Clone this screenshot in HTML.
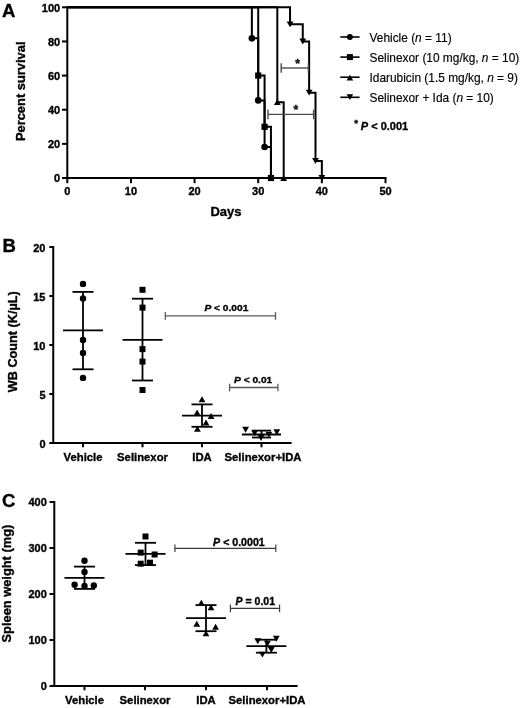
<!DOCTYPE html>
<html><head><meta charset="utf-8"><title>Figure</title>
<style>
html,body{margin:0;padding:0;background:#fff;}
body{width:520px;height:708px;overflow:hidden;}
svg{display:block;}
text{font-family:'Liberation Sans', Arial, Helvetica, sans-serif;fill:#000;}
text.b{stroke:#000;stroke-width:0.35px;}
text.r{stroke:#000;stroke-width:0.15px;}
</style></head>
<body>
<svg width="520" height="708" viewBox="0 0 520 708">
<rect width="520" height="708" fill="#fff"/>
<text class="b" x="2.00" y="16.90" font-size="18.5" font-weight="bold" text-anchor="start" >A</text>
<line x1="67.30" y1="6.30" x2="67.30" y2="179.00" stroke="#000" stroke-width="2"/>
<line x1="66.30" y1="178.00" x2="386.50" y2="178.00" stroke="#000" stroke-width="2"/>
<line x1="62.00" y1="178.00" x2="67.30" y2="178.00" stroke="#000" stroke-width="2"/>
<text class="b" x="60.20" y="182.40" font-size="11" font-weight="bold" text-anchor="end" >0</text>
<line x1="62.00" y1="143.86" x2="67.30" y2="143.86" stroke="#000" stroke-width="2"/>
<text class="b" x="60.20" y="148.26" font-size="11" font-weight="bold" text-anchor="end" >20</text>
<line x1="62.00" y1="109.72" x2="67.30" y2="109.72" stroke="#000" stroke-width="2"/>
<text class="b" x="60.20" y="114.12" font-size="11" font-weight="bold" text-anchor="end" >40</text>
<line x1="62.00" y1="75.58" x2="67.30" y2="75.58" stroke="#000" stroke-width="2"/>
<text class="b" x="60.20" y="79.98" font-size="11" font-weight="bold" text-anchor="end" >60</text>
<line x1="62.00" y1="41.44" x2="67.30" y2="41.44" stroke="#000" stroke-width="2"/>
<text class="b" x="60.20" y="45.84" font-size="11" font-weight="bold" text-anchor="end" >80</text>
<line x1="62.00" y1="7.30" x2="67.30" y2="7.30" stroke="#000" stroke-width="2"/>
<text class="b" x="60.20" y="11.70" font-size="11" font-weight="bold" text-anchor="end" >100</text>
<line x1="67.30" y1="178.00" x2="67.30" y2="183.20" stroke="#000" stroke-width="2"/>
<text class="b" x="67.30" y="195.00" font-size="11" font-weight="bold" text-anchor="middle" >0</text>
<line x1="130.94" y1="178.00" x2="130.94" y2="183.20" stroke="#000" stroke-width="2"/>
<text class="b" x="130.94" y="195.00" font-size="11" font-weight="bold" text-anchor="middle" >10</text>
<line x1="194.58" y1="178.00" x2="194.58" y2="183.20" stroke="#000" stroke-width="2"/>
<text class="b" x="194.58" y="195.00" font-size="11" font-weight="bold" text-anchor="middle" >20</text>
<line x1="258.22" y1="178.00" x2="258.22" y2="183.20" stroke="#000" stroke-width="2"/>
<text class="b" x="258.22" y="195.00" font-size="11" font-weight="bold" text-anchor="middle" >30</text>
<line x1="321.86" y1="178.00" x2="321.86" y2="183.20" stroke="#000" stroke-width="2"/>
<text class="b" x="321.86" y="195.00" font-size="11" font-weight="bold" text-anchor="middle" >40</text>
<line x1="385.50" y1="178.00" x2="385.50" y2="183.20" stroke="#000" stroke-width="2"/>
<text class="b" x="385.50" y="195.00" font-size="11" font-weight="bold" text-anchor="middle" >50</text>
<text class="b" transform="translate(226.00,216.00) scale(1,0.96)" font-size="13" font-weight="bold" text-anchor="middle" >Days</text>
<text class="b" x="0.00" y="0.00" font-size="12.9" font-weight="bold" text-anchor="middle" transform="translate(24.8,91.3) rotate(-90)">Percent survival</text>
<polyline points="67.30,7.30 251.86,7.30 251.86,38.34 258.22,38.34 258.22,100.41 264.58,100.41 264.58,146.96 270.95,146.96 270.95,178.00" fill="none" stroke="#000" stroke-width="2"/>
<polyline points="67.30,7.30 258.22,7.30 258.22,75.58 264.58,75.58 264.58,126.79 270.95,126.79 270.95,178.00" fill="none" stroke="#000" stroke-width="2"/>
<polyline points="67.30,7.30 277.31,7.30 277.31,102.13 283.68,102.13 283.68,178.00" fill="none" stroke="#000" stroke-width="2"/>
<polyline points="67.30,7.30 290.04,7.30 290.04,24.37 302.77,24.37 302.77,41.44 309.13,41.44 309.13,92.65 315.50,92.65 315.50,160.93 321.86,160.93 321.86,178.00" fill="none" stroke="#000" stroke-width="2"/>
<circle cx="251.86" cy="38.34" r="3.3" fill="#000"/>
<circle cx="258.22" cy="100.41" r="3.3" fill="#000"/>
<circle cx="264.58" cy="146.96" r="3.3" fill="#000"/>
<rect x="255.12" y="72.48" width="6.2" height="6.2" fill="#000"/>
<rect x="261.48" y="123.69" width="6.2" height="6.2" fill="#000"/>
<rect x="267.85" y="174.90" width="6.2" height="6.2" fill="#000"/>
<polygon points="273.91,105.08 280.71,105.08 277.31,99.18" fill="#000"/>
<polygon points="280.28,180.95 287.08,180.95 283.68,175.05" fill="#000"/>
<polygon points="286.64,21.42 293.44,21.42 290.04,27.32" fill="#000"/>
<polygon points="299.37,38.49 306.17,38.49 302.77,44.39" fill="#000"/>
<polygon points="305.73,89.70 312.53,89.70 309.13,95.60" fill="#000"/>
<polygon points="312.10,157.98 318.90,157.98 315.50,163.88" fill="#000"/>
<polygon points="318.46,175.05 325.26,175.05 321.86,180.95" fill="#000"/>
<line x1="281.20" y1="68.00" x2="308.40" y2="68.00" stroke="#4a4a4a" stroke-width="1.4"/><line x1="281.20" y1="63.20" x2="281.20" y2="72.80" stroke="#4a4a4a" stroke-width="1.4"/><line x1="308.40" y1="63.20" x2="308.40" y2="72.80" stroke="#4a4a4a" stroke-width="1.4"/>
<text class="b" x="297.70" y="67.80" font-size="12" font-weight="bold" text-anchor="middle" style="fill:#222">*</text>
<line x1="268.00" y1="114.40" x2="313.60" y2="114.40" stroke="#4a4a4a" stroke-width="1.4"/><line x1="268.00" y1="109.60" x2="268.00" y2="119.20" stroke="#4a4a4a" stroke-width="1.4"/><line x1="313.60" y1="109.60" x2="313.60" y2="119.20" stroke="#4a4a4a" stroke-width="1.4"/>
<text class="b" x="295.90" y="114.20" font-size="12" font-weight="bold" text-anchor="middle" style="fill:#222">*</text>
<line x1="340.30" y1="37.00" x2="359.60" y2="37.00" stroke="#000" stroke-width="1.6"/>
<circle cx="349.90" cy="37.00" r="3.0" fill="#000"/>
<text class="r" x="369.50" y="41.80" font-size="11.9" font-weight="normal" text-anchor="start" >Vehicle (<tspan font-style="italic">n</tspan> = 11)</text>
<line x1="340.30" y1="57.10" x2="359.60" y2="57.10" stroke="#000" stroke-width="1.6"/>
<rect x="346.90" y="54.10" width="6.0" height="6.0" fill="#000"/>
<text class="r" x="369.50" y="61.90" font-size="11.9" font-weight="normal" text-anchor="start" >Selinexor (10 mg/kg, <tspan font-style="italic">n</tspan> = 10)</text>
<line x1="340.30" y1="77.20" x2="359.60" y2="77.20" stroke="#000" stroke-width="1.6"/>
<polygon points="346.60,80.50 353.20,80.50 349.90,74.70" fill="#000"/>
<text class="r" x="369.50" y="82.00" font-size="11.9" font-weight="normal" text-anchor="start" >Idarubicin (1.5 mg/kg, <tspan font-style="italic">n</tspan> = 9)</text>
<line x1="340.30" y1="97.30" x2="359.60" y2="97.30" stroke="#000" stroke-width="1.6"/>
<polygon points="346.60,94.20 353.20,94.20 349.90,100.00" fill="#000"/>
<text class="r" x="369.50" y="102.10" font-size="11.9" font-weight="normal" text-anchor="start" >Selinexor + Ida (<tspan font-style="italic">n</tspan> = 10)</text>
<text class="b" x="354.30" y="125.60" font-size="9.8" font-weight="bold" text-anchor="start" >*</text>
<text class="b" transform="translate(360.80,129.70) scale(1,0.92)" font-size="11" font-weight="bold" text-anchor="start" ><tspan font-style="italic">P</tspan> &lt; 0.001</text>
<text class="b" x="2.60" y="252.00" font-size="18.5" font-weight="bold" text-anchor="start" >B</text>
<line x1="53.25" y1="246.00" x2="53.25" y2="444.00" stroke="#000" stroke-width="2"/>
<line x1="52.25" y1="443.00" x2="291.60" y2="443.00" stroke="#000" stroke-width="2"/>
<line x1="49.30" y1="443.00" x2="53.25" y2="443.00" stroke="#000" stroke-width="2"/>
<text class="b" x="45.50" y="447.90" font-size="11" font-weight="bold" text-anchor="end" >0</text>
<line x1="49.30" y1="394.00" x2="53.25" y2="394.00" stroke="#000" stroke-width="2"/>
<text class="b" x="45.50" y="398.90" font-size="11" font-weight="bold" text-anchor="end" >5</text>
<line x1="49.30" y1="345.00" x2="53.25" y2="345.00" stroke="#000" stroke-width="2"/>
<text class="b" x="45.50" y="349.90" font-size="11" font-weight="bold" text-anchor="end" >10</text>
<line x1="49.30" y1="296.00" x2="53.25" y2="296.00" stroke="#000" stroke-width="2"/>
<text class="b" x="45.50" y="300.90" font-size="11" font-weight="bold" text-anchor="end" >15</text>
<line x1="49.30" y1="247.00" x2="53.25" y2="247.00" stroke="#000" stroke-width="2"/>
<text class="b" x="45.50" y="251.90" font-size="11" font-weight="bold" text-anchor="end" >20</text>
<line x1="83.00" y1="443.00" x2="83.00" y2="447.30" stroke="#000" stroke-width="2"/>
<text class="b" transform="translate(83.00,461.30) scale(1,0.95)" font-size="11.3" font-weight="bold" text-anchor="middle" >Vehicle</text>
<line x1="142.50" y1="443.00" x2="142.50" y2="447.30" stroke="#000" stroke-width="2"/>
<text class="b" transform="translate(142.50,461.30) scale(1,0.95)" font-size="11.3" font-weight="bold" text-anchor="middle" >Selinexor</text>
<line x1="202.00" y1="443.00" x2="202.00" y2="447.30" stroke="#000" stroke-width="2"/>
<text class="b" transform="translate(202.00,461.30) scale(1,0.95)" font-size="11.3" font-weight="bold" text-anchor="middle" >IDA</text>
<line x1="261.50" y1="443.00" x2="261.50" y2="447.30" stroke="#000" stroke-width="2"/>
<text class="b" transform="translate(263.00,461.30) scale(1,0.95)" font-size="11.3" font-weight="bold" text-anchor="middle" >Selinexor+IDA</text>
<text class="b" x="0.00" y="0.00" font-size="12.7" font-weight="bold" text-anchor="middle" transform="translate(17.1,341.7) rotate(-90)">WB Count (K/&#181;L)</text>
<line x1="63.00" y1="330.40" x2="103.00" y2="330.40" stroke="#000" stroke-width="1.8"/><line x1="83.00" y1="291.90" x2="83.00" y2="369.30" stroke="#000" stroke-width="1.8"/><line x1="72.50" y1="291.90" x2="93.50" y2="291.90" stroke="#000" stroke-width="1.8"/><line x1="72.50" y1="369.30" x2="93.50" y2="369.30" stroke="#000" stroke-width="1.8"/>
<circle cx="83.00" cy="283.90" r="3.2" fill="#000"/>
<circle cx="83.00" cy="298.40" r="3.2" fill="#000"/>
<circle cx="83.00" cy="339.90" r="3.2" fill="#000"/>
<circle cx="83.00" cy="353.00" r="3.2" fill="#000"/>
<circle cx="83.00" cy="377.90" r="3.2" fill="#000"/>
<line x1="122.50" y1="339.90" x2="162.50" y2="339.90" stroke="#000" stroke-width="1.8"/><line x1="142.50" y1="298.70" x2="142.50" y2="380.50" stroke="#000" stroke-width="1.8"/><line x1="132.00" y1="298.70" x2="153.00" y2="298.70" stroke="#000" stroke-width="1.8"/><line x1="132.00" y1="380.50" x2="153.00" y2="380.50" stroke="#000" stroke-width="1.8"/>
<rect x="139.50" y="286.80" width="6.0" height="6.0" fill="#000"/>
<rect x="139.50" y="304.60" width="6.0" height="6.0" fill="#000"/>
<rect x="139.50" y="346.10" width="6.0" height="6.0" fill="#000"/>
<rect x="139.50" y="358.60" width="6.0" height="6.0" fill="#000"/>
<rect x="139.50" y="387.00" width="6.0" height="6.0" fill="#000"/>
<line x1="182.00" y1="415.70" x2="222.00" y2="415.70" stroke="#000" stroke-width="1.8"/><line x1="202.00" y1="404.40" x2="202.00" y2="426.80" stroke="#000" stroke-width="1.8"/><line x1="191.50" y1="404.40" x2="212.50" y2="404.40" stroke="#000" stroke-width="1.8"/><line x1="191.50" y1="426.80" x2="212.50" y2="426.80" stroke="#000" stroke-width="1.8"/>
<polygon points="198.60,402.15 205.40,402.15 202.00,396.25" fill="#000"/>
<polygon points="193.70,415.45 200.50,415.45 197.10,409.55" fill="#000"/>
<polygon points="207.70,418.95 214.50,418.95 211.10,413.05" fill="#000"/>
<polygon points="202.60,425.45 209.40,425.45 206.00,419.55" fill="#000"/>
<polygon points="194.00,431.85 200.80,431.85 197.40,425.95" fill="#000"/>
<line x1="242.00" y1="434.50" x2="281.00" y2="434.50" stroke="#000" stroke-width="1.8"/><line x1="261.50" y1="430.60" x2="261.50" y2="437.50" stroke="#000" stroke-width="1.8"/><line x1="252.00" y1="430.60" x2="271.00" y2="430.60" stroke="#000" stroke-width="1.8"/><line x1="252.00" y1="437.50" x2="271.00" y2="437.50" stroke="#000" stroke-width="1.8"/>
<polygon points="242.20,426.85 249.00,426.85 245.60,432.75" fill="#000"/>
<polygon points="251.20,430.25 258.00,430.25 254.60,436.15" fill="#000"/>
<polygon points="257.60,435.05 264.40,435.05 261.00,440.95" fill="#000"/>
<polygon points="265.50,431.65 272.30,431.65 268.90,437.55" fill="#000"/>
<polygon points="273.40,429.35 280.20,429.35 276.80,435.25" fill="#000"/>
<line x1="165.30" y1="315.90" x2="275.50" y2="315.90" stroke="#5a5a5a" stroke-width="1.3"/><line x1="165.30" y1="312.10" x2="165.30" y2="319.70" stroke="#5a5a5a" stroke-width="1.3"/><line x1="275.50" y1="312.10" x2="275.50" y2="319.70" stroke="#5a5a5a" stroke-width="1.3"/>
<text class="b" transform="translate(226.40,310.80) scale(1,0.94)" font-size="10.2" font-weight="bold" text-anchor="middle" ><tspan font-style="italic">P</tspan> &lt; 0.001</text>
<line x1="229.60" y1="387.50" x2="277.90" y2="387.50" stroke="#5a5a5a" stroke-width="1.3"/><line x1="229.60" y1="383.70" x2="229.60" y2="391.30" stroke="#5a5a5a" stroke-width="1.3"/><line x1="277.90" y1="383.70" x2="277.90" y2="391.30" stroke="#5a5a5a" stroke-width="1.3"/>
<text class="b" transform="translate(253.10,383.10) scale(1,0.94)" font-size="10.2" font-weight="bold" text-anchor="middle" ><tspan font-style="italic">P</tspan> &lt; 0.01</text>
<text class="b" x="2.00" y="506.60" font-size="18.5" font-weight="bold" text-anchor="start" >C</text>
<line x1="54.30" y1="501.00" x2="54.30" y2="687.00" stroke="#000" stroke-width="2"/>
<line x1="53.30" y1="686.00" x2="297.60" y2="686.00" stroke="#000" stroke-width="2"/>
<line x1="49.50" y1="686.00" x2="54.30" y2="686.00" stroke="#000" stroke-width="2"/>
<text class="b" x="46.80" y="689.90" font-size="11" font-weight="bold" text-anchor="end" >0</text>
<line x1="49.50" y1="640.00" x2="54.30" y2="640.00" stroke="#000" stroke-width="2"/>
<text class="b" x="46.80" y="643.90" font-size="11" font-weight="bold" text-anchor="end" >100</text>
<line x1="49.50" y1="594.00" x2="54.30" y2="594.00" stroke="#000" stroke-width="2"/>
<text class="b" x="46.80" y="597.90" font-size="11" font-weight="bold" text-anchor="end" >200</text>
<line x1="49.50" y1="548.00" x2="54.30" y2="548.00" stroke="#000" stroke-width="2"/>
<text class="b" x="46.80" y="551.90" font-size="11" font-weight="bold" text-anchor="end" >300</text>
<line x1="49.50" y1="502.00" x2="54.30" y2="502.00" stroke="#000" stroke-width="2"/>
<text class="b" x="46.80" y="505.90" font-size="11" font-weight="bold" text-anchor="end" >400</text>
<line x1="84.50" y1="686.00" x2="84.50" y2="690.30" stroke="#000" stroke-width="2"/>
<text class="b" transform="translate(84.50,703.90) scale(1,0.95)" font-size="11.3" font-weight="bold" text-anchor="middle" >Vehicle</text>
<line x1="145.00" y1="686.00" x2="145.00" y2="690.30" stroke="#000" stroke-width="2"/>
<text class="b" transform="translate(145.00,703.90) scale(1,0.95)" font-size="11.3" font-weight="bold" text-anchor="middle" >Selinexor</text>
<line x1="206.00" y1="686.00" x2="206.00" y2="690.30" stroke="#000" stroke-width="2"/>
<text class="b" transform="translate(206.00,703.90) scale(1,0.95)" font-size="11.3" font-weight="bold" text-anchor="middle" >IDA</text>
<line x1="267.00" y1="686.00" x2="267.00" y2="690.30" stroke="#000" stroke-width="2"/>
<text class="b" transform="translate(267.00,703.90) scale(1,0.95)" font-size="11.3" font-weight="bold" text-anchor="middle" >Selinexor+IDA</text>
<text class="b" x="0.00" y="0.00" font-size="12.85" font-weight="bold" text-anchor="middle" transform="translate(11.0,583.6) rotate(-90)">Spleen weight (mg)</text>
<line x1="64.50" y1="577.90" x2="104.50" y2="577.90" stroke="#000" stroke-width="1.8"/><line x1="84.50" y1="566.60" x2="84.50" y2="588.90" stroke="#000" stroke-width="1.8"/><line x1="74.00" y1="566.60" x2="95.00" y2="566.60" stroke="#000" stroke-width="1.8"/><line x1="74.00" y1="588.90" x2="95.00" y2="588.90" stroke="#000" stroke-width="1.8"/>
<circle cx="84.50" cy="560.80" r="3.2" fill="#000"/>
<circle cx="84.50" cy="571.90" r="3.2" fill="#000"/>
<circle cx="74.60" cy="584.80" r="3.2" fill="#000"/>
<circle cx="84.50" cy="586.00" r="3.2" fill="#000"/>
<circle cx="93.80" cy="585.40" r="3.2" fill="#000"/>
<line x1="125.50" y1="553.80" x2="165.50" y2="553.80" stroke="#000" stroke-width="1.8"/><line x1="145.50" y1="542.80" x2="145.50" y2="565.10" stroke="#000" stroke-width="1.8"/><line x1="135.00" y1="542.80" x2="156.00" y2="542.80" stroke="#000" stroke-width="1.8"/><line x1="135.00" y1="565.10" x2="156.00" y2="565.10" stroke="#000" stroke-width="1.8"/>
<rect x="142.50" y="533.50" width="6.0" height="6.0" fill="#000"/>
<rect x="137.70" y="549.60" width="6.0" height="6.0" fill="#000"/>
<rect x="151.60" y="551.50" width="6.0" height="6.0" fill="#000"/>
<rect x="137.70" y="560.70" width="6.0" height="6.0" fill="#000"/>
<rect x="147.00" y="559.70" width="6.0" height="6.0" fill="#000"/>
<line x1="186.00" y1="618.20" x2="226.00" y2="618.20" stroke="#000" stroke-width="1.8"/><line x1="206.00" y1="605.10" x2="206.00" y2="631.20" stroke="#000" stroke-width="1.8"/><line x1="195.50" y1="605.10" x2="216.50" y2="605.10" stroke="#000" stroke-width="1.8"/><line x1="195.50" y1="631.20" x2="216.50" y2="631.20" stroke="#000" stroke-width="1.8"/>
<polygon points="197.90,605.55 204.70,605.55 201.30,599.65" fill="#000"/>
<polygon points="207.60,610.15 214.40,610.15 211.00,604.25" fill="#000"/>
<polygon points="193.40,626.75 200.20,626.75 196.80,620.85" fill="#000"/>
<polygon points="212.20,629.75 219.00,629.75 215.60,623.85" fill="#000"/>
<polygon points="202.60,636.35 209.40,636.35 206.00,630.45" fill="#000"/>
<line x1="246.40" y1="646.20" x2="286.40" y2="646.20" stroke="#000" stroke-width="1.8"/><line x1="266.40" y1="639.70" x2="266.40" y2="652.70" stroke="#000" stroke-width="1.8"/><line x1="255.90" y1="639.70" x2="276.90" y2="639.70" stroke="#000" stroke-width="1.8"/><line x1="255.90" y1="652.70" x2="276.90" y2="652.70" stroke="#000" stroke-width="1.8"/>
<polygon points="254.40,638.25 261.20,638.25 257.80,644.15" fill="#000"/>
<polygon points="272.90,635.85 279.70,635.85 276.30,641.75" fill="#000"/>
<polygon points="264.00,640.85 270.80,640.85 267.40,646.75" fill="#000"/>
<polygon points="267.90,647.05 274.70,647.05 271.30,652.95" fill="#000"/>
<polygon points="259.00,651.65 265.80,651.65 262.40,657.55" fill="#000"/>
<line x1="174.90" y1="548.30" x2="275.80" y2="548.30" stroke="#383838" stroke-width="1.15"/><line x1="174.90" y1="544.50" x2="174.90" y2="552.10" stroke="#383838" stroke-width="1.15"/><line x1="275.80" y1="544.50" x2="275.80" y2="552.10" stroke="#383838" stroke-width="1.15"/>
<text class="b" x="238.90" y="545.60" font-size="10.6" font-weight="bold" text-anchor="middle" ><tspan font-style="italic">P</tspan> &lt; 0.0001</text>
<line x1="230.40" y1="608.40" x2="279.60" y2="608.40" stroke="#383838" stroke-width="1.15"/><line x1="230.40" y1="604.60" x2="230.40" y2="612.20" stroke="#383838" stroke-width="1.15"/><line x1="279.60" y1="604.60" x2="279.60" y2="612.20" stroke="#383838" stroke-width="1.15"/>
<text class="b" x="255.30" y="604.60" font-size="10.5" font-weight="bold" text-anchor="middle" ><tspan font-style="italic">P</tspan> = 0.01</text>
</svg>
</body></html>
